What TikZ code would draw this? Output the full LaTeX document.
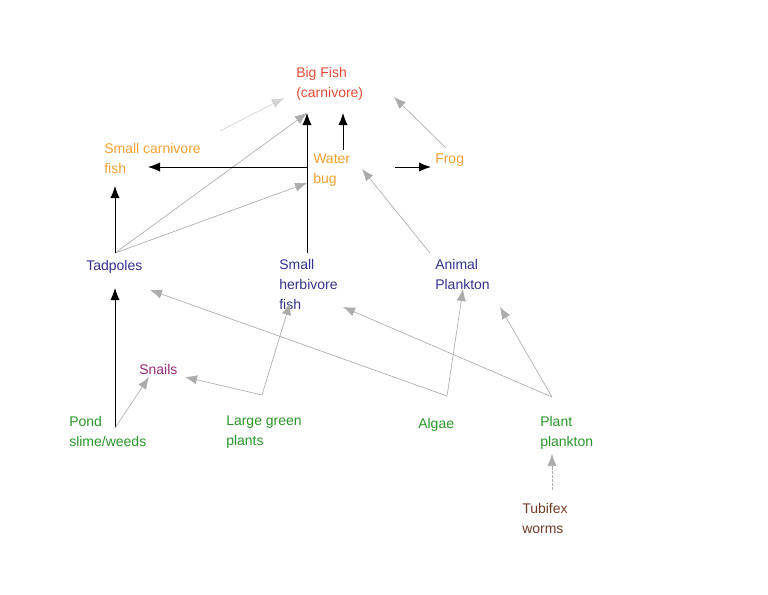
\documentclass[tikz,border=0pt]{standalone}
\usepackage{fontspec}
\setmainfont{Liberation Sans}
\usetikzlibrary{arrows.meta}
\definecolor{cred}{RGB}{225,75,55}
\definecolor{corange}{RGB}{245,160,50}
\definecolor{cnavy}{RGB}{50,50,140}
\definecolor{cpurple}{RGB}{150,40,120}
\definecolor{cgreen}{RGB}{40,150,40}
\definecolor{cbrown}{RGB}{110,60,40}
\begin{document}
\begin{tikzpicture}[x=0.75pt,y=-0.75pt,
  lbl/.style={anchor=north west,inner sep=0pt,align=left,font=\fontsize{10.5}{15}\selectfont},
  blk/.style={draw=black,line width=0.7pt,-{Latex[length=9pt,width=7pt]}},
  gry/.style={draw=gray!65,line width=0.5pt,-{Latex[length=9pt,width=7pt]}}]
\useasboundingbox (0,0) rectangle (768,594);
\node[lbl,text=cred] (big) at (296,67) {Big Fish\\(carnivore)};
\node[lbl,text=corange] (scf) at (104,143) {Small carnivore\\fish};
\node[lbl,text=corange] (wb) at (313,154) {Water\\bug};
\node[lbl,text=corange] (frog) at (435,154) {Frog};
\node[lbl,text=cnavy] (tad) at (86,260) {Tadpoles};
\node[lbl,text=cnavy] (shf) at (279,259) {Small\\herbivore\\fish};
\node[lbl,text=cnavy] (ap) at (435,259) {Animal\\Plankton};
\node[lbl,text=cpurple] (sn) at (139,364) {Snails};
\node[lbl,text=cgreen] (pond) at (69,416) {Pond\\slime/weeds};
\node[lbl,text=cgreen] (lgp) at (226,416) {Large green\\plants};
\node[lbl,text=cgreen] (alg) at (418,418) {Algae};
\node[lbl,text=cgreen] (pp) at (540,416) {Plant\\plankton};
\node[lbl,text=cbrown] (tub) at (522,503) {Tubifex\\worms};
% coordinates
\coordinate (c1) at (220,131); \coordinate (bf1) at (284,98);
\coordinate (tadT) at (115,253); \coordinate (bfB) at (307,113);
\coordinate (wbL) at (307,183); \coordinate (scfB) at (115,186);
\coordinate (shfT) at (307,253); \coordinate (wbM) at (307,167);
\coordinate (scfR) at (148,167);
\coordinate (wbT) at (343,150); \coordinate (bfB2) at (343,113);
\coordinate (wbR) at (395,167); \coordinate (frogL) at (431,167);
\coordinate (frogT) at (446,148); \coordinate (bfR) at (394,97);
\coordinate (apT) at (430,253); \coordinate (wbB) at (362,169);
\coordinate (pondT) at (115,428); \coordinate (tadB) at (115,288);
\coordinate (snB) at (149,377); \coordinate (snR) at (185,377);
\coordinate (lgpT) at (262,395); \coordinate (shfB) at (290,303);
\coordinate (algT) at (447,396); \coordinate (tadR) at (150,290);
\coordinate (apB) at (463,289);
\coordinate (ppT) at (552,397); \coordinate (shfR) at (343,307); \coordinate (apR) at (500,307);
\coordinate (tubT) at (552,490); \coordinate (ppB) at (552,454);
\draw[gry,draw=gray!35] (c1) -- (bf1);
\draw[gry] (tadT) -- (bfB);
\draw[gry] (tadT) -- (wbL);
\draw[blk] (tadT) -- (scfB);
\draw[blk] (shfT) -- (bfB);
\draw[blk] (wbM) -- (scfR);
\draw[blk] (wbT) -- (bfB2);
\draw[blk] (wbR) -- (frogL);
\draw[gry] (frogT) -- (bfR);
\draw[gry] (apT) -- (wbB);
\draw[blk] (pondT) -- (tadB);
\draw[gry] (pondT) -- (snB);
\draw[gry] (lgpT) -- (snR);
\draw[gry] (lgpT) -- (shfB);
\draw[gry] (algT) -- (tadR);
\draw[gry] (algT) -- (apB);
\draw[gry] (ppT) -- (shfR);
\draw[gry] (ppT) -- (apR);
\draw[gry,dashed,dash pattern=on 2pt off 1pt] (tubT) -- (ppB);
\end{tikzpicture}
\end{document}
